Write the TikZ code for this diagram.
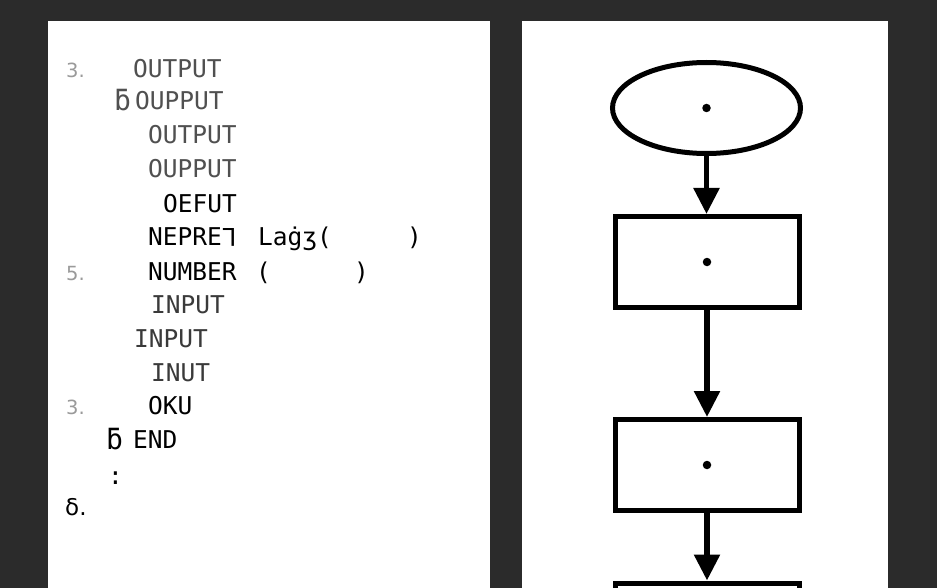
\documentclass[tikz,border=0pt]{standalone}
\usepackage{fontspec}
\usepackage{graphicx}
\setmainfont{DejaVu Sans}
\setmonofont{DejaVu Sans Mono}
\usetikzlibrary{shapes.geometric,arrows.meta}
\definecolor{bgdark}{HTML}{2B2B2B}
\definecolor{txtgray}{HTML}{505050}
\definecolor{txtmid}{HTML}{3A3A3A}
\definecolor{numgray}{HTML}{9A9A9A}
\tikzset{
  code/.style={anchor=base west, inner sep=0pt, font=\ttfamily\fontsize{24.5}{28}\selectfont},
  num/.style={anchor=base west, inner sep=0pt, font=\fontsize{19.5}{22}\selectfont, text=numgray},
  flowline/.style={line width=5pt},
  flowarrow/.style={line width=5.5pt, -{Triangle[length=26pt,width=25pt]}},
  centerdot/.style={circle, fill=black, inner sep=0pt, minimum size=8.5pt},
  termbox/.style={ellipse, draw, flowline, inner sep=0pt, minimum width=188pt, minimum height=91pt},
  procbox/.style={rectangle, draw, flowline, inner sep=0pt, minimum width=184pt, minimum height=91pt},
}
\begin{document}
\begin{tikzpicture}[x=1pt,y=-1pt]
\useasboundingbox (0,0) rectangle (937,588);
\fill[bgdark] (0,0) rectangle (937,588);
\fill[white] (48,21) rectangle (490,588);
\fill[white] (522,21) rectangle (888,588);

% left panel: code listing
\node[num] (n1) at (66,78) {3.};
\node[code, text=txtgray] (l1) at (133,78) {OUTPUT};
\node[code, text=txtgray, font=\ttfamily\fontsize{28}{30}\selectfont] (g1) at (114,111) {ƃ};
\node[code, text=txtgray] (l2) at (135,110) {OUPPUT};
\node[code, text=txtgray] (l3) at (148,144) {OUTPUT};
\node[code, text=txtgray] (l4) at (148,178) {OUPPUT};
\node[code, text=black] (l5) at (163,213) {OEFUT};
\node[code, text=black] (l6) at (148,246) {NEPRE\rotatebox[origin=c]{180}{L}};
\node[code, text=black] (l6b) at (258,246) {Laġʒ(};
\node[code, text=black] (l6c) at (407,246) {)};
\node[num] (n2) at (66,280) {5.};
\node[code, text=black] (l7) at (148,280) {NUMBER};
\node[code, text=black] (l7b) at (256,280) {(};
\node[code, text=black] (l7c) at (354,280) {)};
\node[code, text=txtmid] (l8) at (151,313) {INPUT};
\node[code, text=txtmid] (l9) at (134,347) {INPUT};
\node[code, text=txtmid] (l10) at (151,381) {INUT};
\node[num] (n3) at (66,414) {3.};
\node[code, text=black] (l11) at (148,414) {OKU};
\node[code, text=black, font=\ttfamily\fontsize{28}{30}\selectfont] (g2) at (106,449) {ƃ};
\node[code, text=black] (l12) at (133,448) {END};
\node[code, text=black] (l13) at (108,484) {:};
\node[anchor=base west, inner sep=0pt, font=\fontsize{23}{26}\selectfont] (n4) at (65,515) {δ.};

% right panel: flowchart
\begin{scope}
\clip (522,21) rectangle (888,588);
\node[termbox] (e) at (706.5,108) {};
\node[procbox] (b1) at (707,262) {};
\node[procbox] (b2) at (707,465) {};
\node[procbox, anchor=north] (b3) at (707,580.5) {};
\node[centerdot] (d0) at (e.center) {};
\node[centerdot] (d1) at (b1.center) {};
\node[centerdot] (d2) at (b2.center) {};
\draw[flowarrow] (e.south) -- (e.south |- b1.north);
\draw[flowarrow] (b1.south) -- (b2.north);
\draw[flowarrow] (b2.south) -- (b3.north);
\end{scope}
\end{tikzpicture}
\end{document}
